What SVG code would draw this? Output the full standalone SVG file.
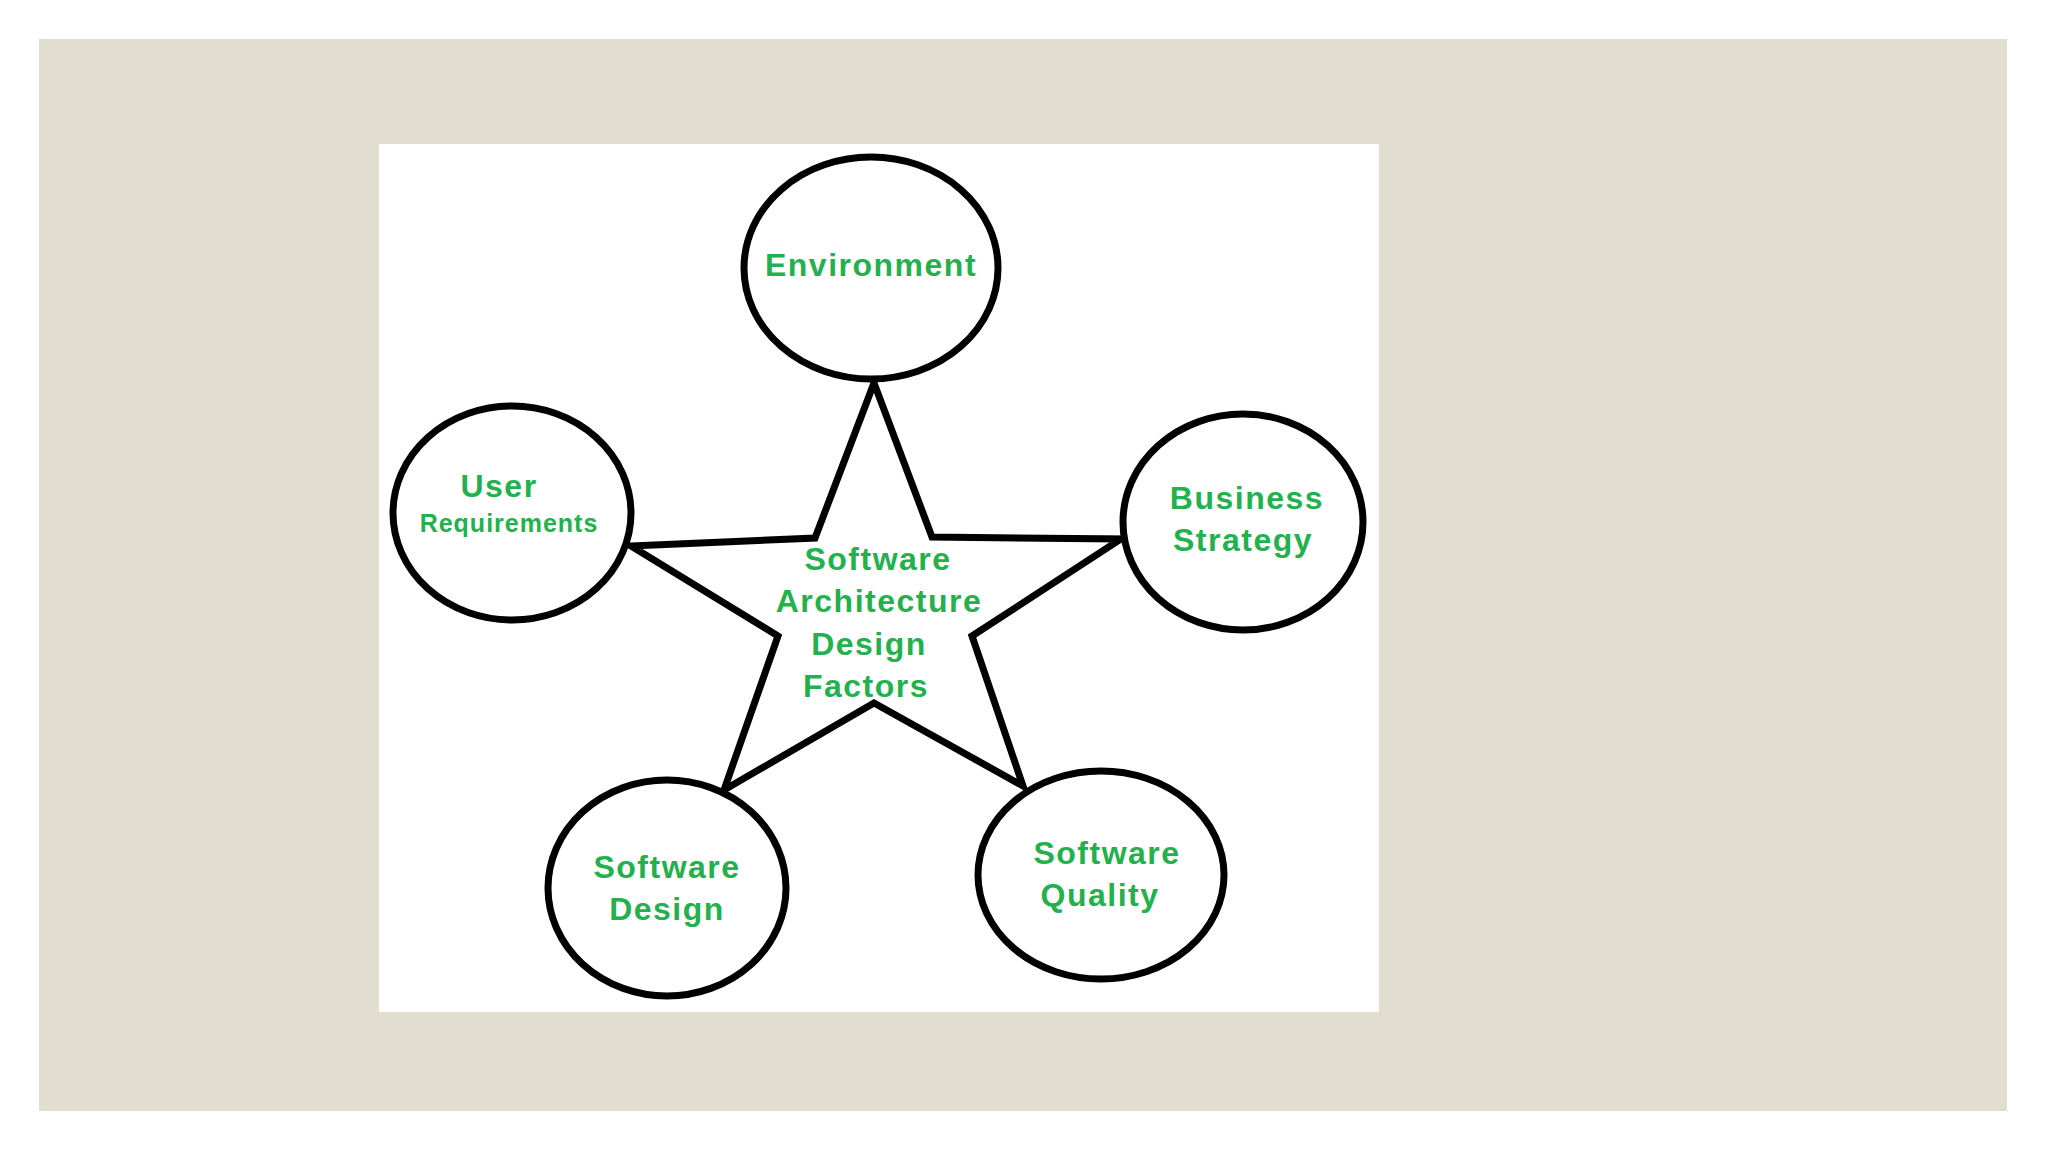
<svg xmlns="http://www.w3.org/2000/svg" width="2048" height="1152" viewBox="0 0 2048 1152">
<style>
.n{fill:#fff;stroke:#000;stroke-width:7}
.t{font-family:"Liberation Sans",Arial,sans-serif;font-weight:bold;font-size:32px;fill:#22b14c;text-anchor:middle;dominant-baseline:middle;letter-spacing:1.5px}
.s{font-size:25px;letter-spacing:1px}
</style>
<rect width="2048" height="1152" fill="#fff"/>
<rect x="39" y="39" width="1968" height="1072" fill="#e1ded0"/>
<rect x="379" y="144" width="1000" height="868" fill="#fff"/>
<g id="connectors">
<polygon points="874,383 932,537 1121,539 972,636 1023,786 874,703 724,790 778,636 631,546 815,538" fill="none" stroke="#000" stroke-width="7" stroke-linejoin="miter"/>
</g>
<g id="center"><text class="t" x="878" y="562">Software</text><text class="t" x="879" y="604">Architecture</text><text class="t" x="869" y="647">Design</text><text class="t" x="866" y="689">Factors</text></g>
<g id="environment"><ellipse class="n" cx="871" cy="268" rx="127" ry="111"/><text class="t" x="871" y="268">Environment</text></g>
<g id="user"><ellipse class="n" cx="512" cy="513" rx="119" ry="107"/><text class="t" x="499" y="489">User</text><text class="t s" x="509" y="525">Requirements</text></g>
<g id="business"><ellipse class="n" cx="1243" cy="522" rx="120" ry="108"/><text class="t" x="1247" y="501">Business</text><text class="t" x="1243" y="543">Strategy</text></g>
<g id="design"><ellipse class="n" cx="667" cy="888" rx="119" ry="108"/><text class="t" x="667" y="870">Software</text><text class="t" x="667" y="912">Design</text></g>
<g id="quality"><ellipse class="n" cx="1101" cy="875" rx="123" ry="104"/><text class="t" x="1107" y="856">Software</text><text class="t" x="1100" y="898">Quality</text></g>
</svg>
